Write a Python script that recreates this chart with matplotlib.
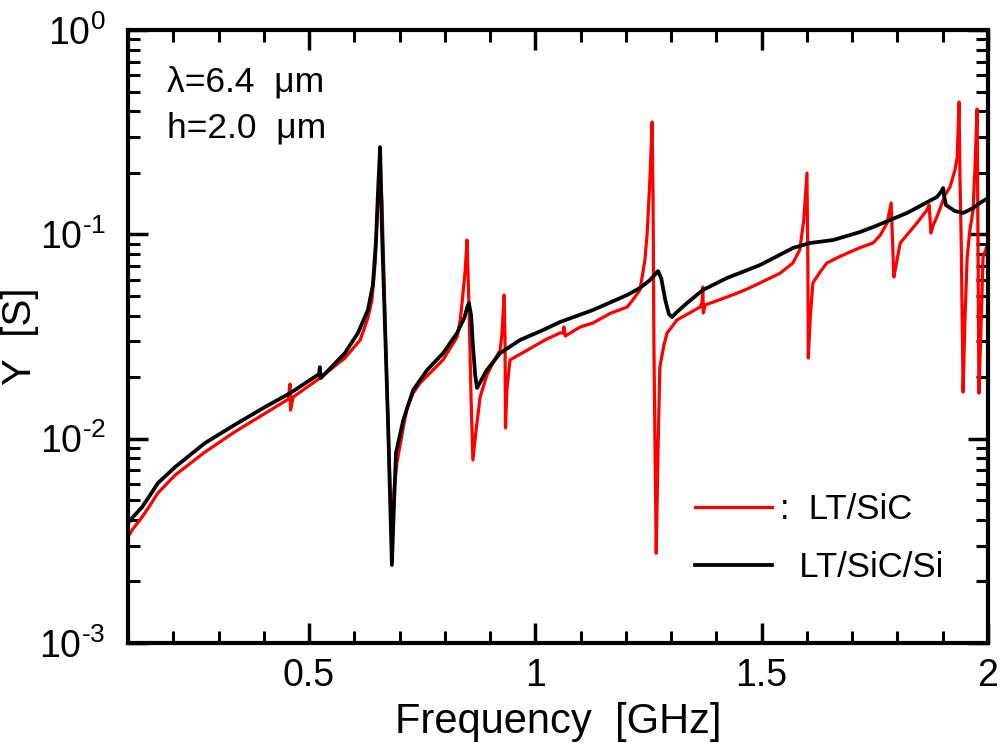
import numpy as np
import matplotlib
matplotlib.use("Agg")
import matplotlib.pyplot as plt
from matplotlib.ticker import MultipleLocator, LogLocator, FixedLocator, FuncFormatter, NullFormatter

plt.rcParams['font.family'] = ['Liberation Sans', 'DejaVu Sans']
plt.rcParams['mathtext.fontset'] = 'custom'
plt.rcParams['mathtext.rm'] = 'Liberation Sans'
plt.rcParams['mathtext.it'] = 'Liberation Sans:italic'
plt.rcParams['mathtext.bf'] = 'Liberation Sans:bold'

# ---- data: LT/SiC (red) ----
f_sic = [0.100, 0.109, 0.131, 0.149, 0.166, 0.204, 0.270, 0.336, 0.403, 0.454, 0.458, 0.459, 0.465,
         0.524, 0.579, 0.613, 0.630, 0.639, 0.646, 0.652, 0.657, 0.661, 0.668, 0.675,
         0.683, 0.688, 0.694, 0.708, 0.717, 0.730, 0.745, 0.796, 0.827, 0.834, 0.838,
         0.845, 0.849, 0.853, 0.858, 0.862, 0.869, 0.878, 0.893, 0.906, 0.922, 0.926,
         0.931, 0.933, 0.934, 0.937, 0.944, 0.982, 1.021, 1.054, 1.061, 1.063, 1.066,
         1.099, 1.127, 1.165, 1.203, 1.216, 1.231, 1.242, 1.247, 1.253, 1.258, 1.260, 1.262, 1.267,
         1.271, 1.275, 1.284, 1.291, 1.313, 1.364, 1.368, 1.370, 1.371, 1.375, 1.423,
         1.463, 1.496, 1.541, 1.569, 1.584, 1.593, 1.600, 1.602, 1.603, 1.607, 1.613, 1.629, 1.644,
         1.673, 1.717, 1.746, 1.762, 1.777, 1.786, 1.792, 1.797, 1.806, 1.843, 1.865, 1.870, 1.874,
         1.879, 1.887, 1.905, 1.916, 1.927, 1.932, 1.934, 1.936, 1.938, 1.941, 1.943,
         1.945, 1.949, 1.954, 1.960, 1.967, 1.971, 1.976, 1.978, 1.980, 1.985, 1.989, 2.000]
y_sic = [0.00330, 0.00357, 0.00413, 0.00473, 0.00542, 0.00663, 0.00860, 0.0108, 0.0133, 0.0156, 0.0185, 0.0138, 0.0160,
         0.0198, 0.0248, 0.0304, 0.0390, 0.0477, 0.0724, 0.1472, 0.2135, 0.1472, 0.0381, 0.0110,
         0.00285, 0.00560, 0.00760, 0.0113, 0.0143, 0.0167, 0.0187, 0.0243, 0.0314, 0.0381, 0.0461,
         0.0669, 0.0938, 0.0477, 0.0155, 0.00786, 0.0110, 0.0160, 0.0205, 0.0234, 0.0271, 0.0321,
         0.0505, 0.0304, 0.0113, 0.0173, 0.0243, 0.0271, 0.0304, 0.0329, 0.0329, 0.0352, 0.0318,
         0.0352, 0.0368, 0.0410, 0.0441, 0.0480, 0.0534, 0.0748, 0.1015, 0.1844, 0.3545, 0.1472, 0.0271, 0.00275,
         0.0088, 0.0224, 0.0287, 0.0329, 0.0381, 0.0441, 0.0461, 0.0552, 0.0412, 0.0451, 0.0493,
         0.0534, 0.0578, 0.0646, 0.0724, 0.0838, 0.1175, 0.1995, 0.0748, 0.0248, 0.0381, 0.0578, 0.0654, 0.0724,
         0.0780, 0.0860, 0.0907, 0.0990, 0.1136, 0.1423, 0.0618, 0.0707, 0.0907, 0.1136, 0.1315, 0.1391, 0.1015,
         0.1110, 0.1215, 0.1557, 0.1704, 0.2064, 0.2390, 0.3240, 0.4442, 0.1950, 0.0866, 0.0381,
         0.0169, 0.0381, 0.0774, 0.1049, 0.1315, 0.2064, 0.4106, 0.0830, 0.0167, 0.0381, 0.0774, 0.0907]

# ---- data: LT/SiC/Si (black) ----
f_si = [0.100, 0.109, 0.131, 0.149, 0.166, 0.204, 0.270, 0.336, 0.403, 0.458, 0.522, 0.524, 0.526,
        0.579, 0.608, 0.630, 0.641, 0.648, 0.652, 0.657, 0.661, 0.668, 0.675, 0.683,
        0.688, 0.692, 0.708, 0.730, 0.761, 0.796, 0.827, 0.843, 0.849, 0.853, 0.858,
        0.862, 0.867, 0.871, 0.878, 0.893, 0.922, 0.966, 1.017, 1.054, 1.127, 1.203,
        1.231, 1.253, 1.267, 1.271, 1.278, 1.287, 1.295, 1.302, 1.313, 1.335, 1.370,
        1.423, 1.496, 1.569, 1.607, 1.658, 1.717, 1.746, 1.821, 1.887, 1.896, 1.901,
        1.903, 1.907, 1.927, 1.945, 1.967, 1.982, 2.000]
y_si = [0.00386, 0.00409, 0.00462, 0.00530, 0.00606, 0.00726, 0.00952, 0.0117, 0.0143, 0.0167, 0.0207, 0.0224, 0.0198,
        0.0262, 0.0329, 0.0426, 0.0565, 0.0938, 0.1557, 0.2675, 0.1049, 0.0340, 0.0110, 0.00241,
        0.00501, 0.00850, 0.0123, 0.0173, 0.0217, 0.0262, 0.0329, 0.0390, 0.0436, 0.0461, 0.0403,
        0.0287, 0.0205, 0.0177, 0.0189, 0.0217, 0.0262, 0.0304, 0.0340, 0.0372, 0.0426, 0.0505,
        0.0546, 0.0597, 0.0646, 0.0661, 0.0611, 0.0477, 0.0407, 0.0394, 0.0417, 0.0461, 0.0534,
        0.0611, 0.0707, 0.0857, 0.0907, 0.0938, 0.1026, 0.1085, 0.1272, 0.1523, 0.1611, 0.1685,
        0.1540, 0.1391, 0.1300, 0.1272, 0.1345, 0.1423, 0.1506]

labels = [":  LT/SiC", "  LT/SiC/Si"]
annotation = ["\u03bb=6.4  \u03bcm", "h=2.0  \u03bcm"]
x_ticks = [0.5, 1.0, 1.5, 2.0]

fig = plt.figure(figsize=(10, 7.43), dpi=100)
ax = fig.add_axes([0.128, 0.1346, 0.860, 0.825])

ax.plot(f_sic, y_sic, color='#ff0000', lw=2.3, label=labels[0], zorder=2)
ax.plot(f_si, y_si, color='black', lw=2.7, label=labels[1], zorder=3)

ax.set_yscale('log')
ax.set_xlim(0.1, 2.0)
ax.set_ylim(1e-3, 1.0)

ax.xaxis.set_major_locator(FixedLocator(x_ticks))
ax.xaxis.set_minor_locator(MultipleLocator(0.1))
ax.xaxis.set_major_formatter(FuncFormatter(lambda v, p: f"{v:g}"))
ax.yaxis.set_major_locator(LogLocator(base=10, numticks=10))
ax.yaxis.set_minor_locator(LogLocator(base=10, subs=np.arange(2, 10), numticks=20))
ax.yaxis.set_minor_formatter(NullFormatter())


def ylab(v, p):
    e = int(round(np.log10(v)))
    s = str(e).replace('-', '\u2010')
    return r"$\mathregular{10^{%s}}$" % s


ax.yaxis.set_major_formatter(FuncFormatter(ylab))

ax.tick_params(which='both', direction='in', top=True, right=True)
ax.tick_params(axis='x', pad=11, labelsize=27)
ax.tick_params(axis='y', pad=16, labelsize=27)
ax.tick_params(which='major', length=14.4, width=2.5)
ax.tick_params(which='minor', length=8.6, width=2.2)
for s in ax.spines.values():
    s.set_linewidth(3)

ax.set_xlabel("Frequency  [GHz]", fontsize=30)
ax.set_ylabel("Y  [S]", fontsize=29)
ax.xaxis.set_label_coords(0.5, -0.096)
ax.yaxis.set_label_coords(-0.1035, 0.5)

ax.text(0.0453, 0.9005, annotation[0], transform=ax.transAxes, fontsize=25.5, va='baseline', ha='left')
ax.text(0.0453, 0.8254, annotation[1], transform=ax.transAxes, fontsize=25.5, va='baseline', ha='left')

ax.legend(loc='center left', bbox_to_anchor=(0.659, 0.1697), frameon=False, fontsize=25,
          handlelength=2.22, handletextpad=0.23, labelspacing=0.72, borderpad=0, borderaxespad=0)

fig.savefig("out.png", dpi=100)
